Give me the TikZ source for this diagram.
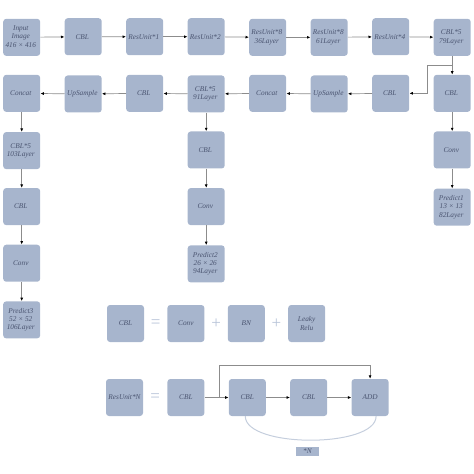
\documentclass[tikz,border=0pt]{standalone}
\usepackage{fontspec}
\setmainfont{Liberation Serif}
\usetikzlibrary{matrix, positioning, arrows.meta, calc}
\definecolor{boxfill}{HTML}{A7B5CD}
\definecolor{boxtext}{HTML}{4A5470}
\definecolor{linkgray}{HTML}{8C8C8C}
\definecolor{signcol}{HTML}{B7C3D8}
\definecolor{loopcol}{HTML}{C5CEDD}
\newcommand{\stk}[1]{\begin{tabular}{@{}c@{}}#1\end{tabular}}

\tikzset{
	box/.style={fill=boxfill, rounded corners=3pt, minimum size=37pt, inner sep=1pt,
		align=center, text=boxtext, font=\fontsize{7.3}{8.2}\selectfont\itshape},
	link/.style={draw=linkgray, line width=0.7pt, -{Latex[length=3.5pt,width=3pt,color=black]}},
	sign/.style={text=signcol, font=\fontsize{17}{17}\selectfont},
}

\begin{document}
\begin{tikzpicture}[x=1pt,y=-1pt]
		\useasboundingbox (0,0) rectangle (474,474);
		\matrix (m) [matrix of nodes, anchor=north west, inner sep=0pt,
		nodes={box}, column sep=24.5pt, row sep=19pt] at (3,18) {
			\stk{Input\\Image\\416 × 416} & CBL & ResUnit*1 & ResUnit*2 & \stk{ResUnit*8\\36Layer} & \stk{ResUnit*8\\61Layer} & ResUnit*4 & \stk{CBL*5\\79Layer} \\
			Concat & UpSample & CBL & \stk{CBL*5\\91Layer} & Concat & UpSample & CBL & CBL \\
			\stk{CBL*5\\103Layer} & & & CBL & & & & Conv \\
			CBL & & & Conv & & & & \stk{Predict1\\13 × 13\\82Layer} \\
			Conv & & & \stk{Predict2\\26 × 26\\94Layer} & & & & \\
			\stk{Predict3\\52 × 52\\106Layer} & & & & & & & \\
		};
		% backbone and necks
		\foreach \a/\b in {1/2,2/3,3/4,4/5,5/6,6/7,7/8}
			\draw[link] (m-1-\a) -- (m-1-\b);
		\foreach \a/\b in {7/6,6/5,5/4,4/3,3/2,2/1}
			\draw[link] (m-2-\a) -- (m-2-\b);
		\foreach \a/\b in {2/3,3/4,4/5,5/6}
			\draw[link] (m-\a-1) -- (m-\b-1);
		\foreach \a/\b in {2/3,3/4,4/5}
			\draw[link] (m-\a-4) -- (m-\b-4);
		\foreach \a/\b in {1/2,2/3,3/4}
			\draw[link] (m-\a-8) -- (m-\b-8);
		\coordinate (fork) at ($(m-1-8.south)+(0,9)$);
		\coordinate (bend) at ($(fork)+(-25,0)$);
		\draw[link] (fork) -- (bend) |- (m-2-7.east);
		
		% CBL legend
		\node[box] (cbl) at (125.5,323.5) {CBL};
		\node[box, right=23pt of cbl] (conv) {Conv};
		\node[box, right=23pt of conv] (bn) {BN};
		\node[box, right=23pt of bn] (leaky) {Leaky\\Relu};
		\node[sign] (eqa) at ($(cbl)!0.5!(conv)$) {=};
		\node[sign] (plusa) at ($(conv)!0.5!(bn)$) {+};
		\node[sign] (plusb) at ($(bn)!0.5!(leaky)$) {+};
		
		% ResUnit legend
		\node[box] (res) at (124.5,397.5) {ResUnit*N};
		\node[box, right=24pt of res] (rcbl) {CBL};
		\node[box, right=24pt of rcbl] (rcblb) {CBL};
		\node[box, right=24pt of rcblb] (rcblc) {CBL};
		\node[box, right=24pt of rcblc] (add) {ADD};
		\node[sign] (eqb) at ($(res)!0.5!(rcbl)$) {=};
		\draw[link] (rcbl) -- (rcblb);
		\draw[link] (rcblb) -- (rcblc);
		\draw[link] (rcblc) -- (add);
		\coordinate (split) at ($(rcbl.east)!0.6!(rcblb.west)$);
		\coordinate (over) at ($(add.north)+(0,-13)$);
		\draw[link] (split) |- (over) -- (add.north);
		\draw[loopcol, line width=1pt] ([xshift=-2pt]rcblb.south) .. controls +(0,32) and +(0,32) .. ([xshift=6pt]add.south);
		\node[box, minimum size=0pt, minimum width=23pt, minimum height=9pt, rounded corners=0pt] (times) at (307.5,451.5) {*N};
	\end{tikzpicture}
\end{document}
